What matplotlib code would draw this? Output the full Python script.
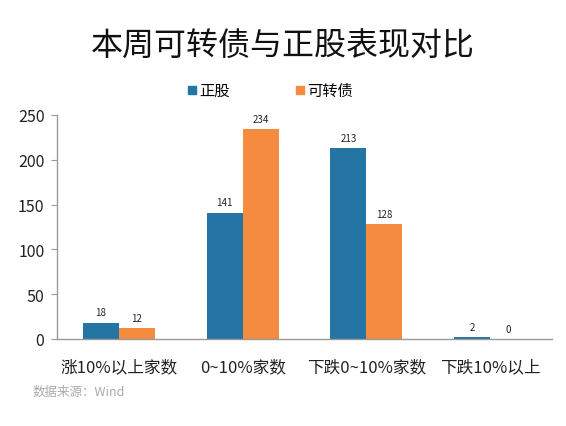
import matplotlib
matplotlib.use("Agg")
import matplotlib.pyplot as plt
import numpy as np

plt.rcParams['font.family'] = ['Noto Sans CJK SC', 'DejaVu Sans']

categories = ["涨10%以上家数", "0~10%家数", "下跌0~10%家数", "下跌10%以上"]
stock = [18, 141, 213, 2]
cb = [12, 234, 128, 0]
series_names = ["正股", "可转债"]
yticks = [0, 50, 100, 150, 200, 250]

blue = "#2474A4"
orange = "#F58B3F"

fig = plt.figure(figsize=(5.66, 4.27), dpi=100)
ax = fig.add_axes([57/566, 1-340/427, (552-57)/566, (340-116)/427])

x = np.arange(len(categories))
w = 0.29
ax.bar(x - w/2, stock, w, color=blue)
ax.bar(x + w/2, cb, w, color=orange)

for xi, v in zip(x, stock):
    ax.text(xi - w/2, v + 6, str(v), ha='center', va='bottom', fontsize=7, color='#222222')
for xi, v in zip(x, cb):
    ax.text(xi + w/2, v + 6, str(v), ha='center', va='bottom', fontsize=7, color='#222222')

ax.set_xlim(-0.5, 3.5)
ax.set_ylim(0, 250)
ax.set_yticks(yticks)
ax.set_yticklabels([str(t) for t in yticks], fontsize=11.5, color='#222222')
ax.set_xticks(x)
ax.set_xticklabels(categories, fontsize=12, color='#222222')
ax.tick_params(axis='x', length=0, pad=14)
ax.tick_params(axis='y', length=4, color='#999999', pad=5)
for s in ['top', 'right']:
    ax.spines[s].set_visible(False)
for s in ['left', 'bottom']:
    ax.spines[s].set_color('#999999')
    ax.spines[s].set_linewidth(1)

fig.text(0.5, 1-47/427, "本周可转债与正股表现对比", ha='center', va='center', fontsize=23, color='#111111')

# legend
fig.patches.append(plt.Rectangle((188/566, 1-95/427), 8/566, 8/427, transform=fig.transFigure, color=blue))
fig.text(199/566, 1-91/427, series_names[0], ha='left', va='center', fontsize=11)
fig.patches.append(plt.Rectangle((296/566, 1-95/427), 8/566, 8/427, transform=fig.transFigure, color=orange))
fig.text(307/566, 1-91/427, series_names[1], ha='left', va='center', fontsize=11)

fig.text(33/566, 1-392/427, "数据来源：Wind", ha='left', va='center', fontsize=9, color='#AAAAAA')

fig.savefig("out.png", dpi=100, facecolor='white')
